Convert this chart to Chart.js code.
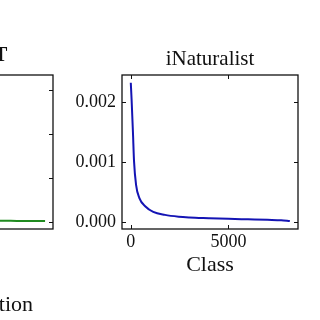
<!DOCTYPE html>
<html>
<head>
<meta charset="utf-8">
<script src="https://cdn.jsdelivr.net/npm/chart.js@4.4.1/dist/chart.umd.min.js"></script>
<style>
  html, body { margin: 0; padding: 0; background: #fff; }
  #wrap { position: relative; width: 320px; height: 320px; overflow: hidden; }
  .panel { position: absolute; top: 0; width: 320px; height: 320px; }
  #caption { position: absolute; top: 293px; left: -267px; width: 300px; text-align: right;
             font: 22px/22px "Liberation Serif", serif; color: #111; white-space: nowrap; }
</style>
</head>
<body>
<div id="wrap">
  <div class="panel" style="left:-245px"><canvas id="leftChart"></canvas></div>
  <div class="panel" style="left:0"><canvas id="rightChart"></canvas></div>
  <div id="caption">Class distribution</div>
</div>
<script>
// iNaturalist - sorted class frequencies
const inatClass = [0, 40, 110, 165, 270, 440, 750, 1150, 1750, 2450, 3000, 4000, 5000, 6000, 7000, 7700, 8142];
const inatFreq = [0.00232, 0.00205, 0.0015, 0.00102, 0.00062, 0.0004, 0.00026, 0.00017, 0.00012, 0.00009,
                  0.000078, 0.000066, 0.000055, 0.000046, 0.000037, 0.00003, 0.000018];
const inatYTicks = [0, 0.001, 0.002];
const inatXTicks = [0, 5000];

// left panel, only its tail shows in the crop
const leftClass = [0, 5, 10, 20, 40, 60, 100, 150, 200, 250, 300, 364];
const leftFreq = [0.0638, 0.045, 0.035, 0.022, 0.012, 0.008, 0.0045, 0.0025, 0.0012, 0.0006, 0.0005, 0.0004];
const leftYTicks = [0, 0.02, 0.04, 0.06];
const leftXTicks = [0, 200];

Chart.defaults.font.family = '"Liberation Serif", serif';
Chart.defaults.color = '#111';

// box round the plot + inward ticks on all four sides + panel title
const frameTicks = {
  id: 'frameTicks',
  afterDraw(chart, args, opts) {
    const { ctx, chartArea: a, scales: { x, y } } = chart;
    const len = 4;
    ctx.save();
    ctx.strokeStyle = '#111';
    ctx.lineWidth = 1;
    ctx.beginPath();
    x.ticks.forEach(t => {
      const px = Math.round(x.getPixelForValue(t.value)) + 0.5;
      ctx.moveTo(px, a.bottom); ctx.lineTo(px, a.bottom - len);
      ctx.moveTo(px, a.top); ctx.lineTo(px, a.top + len);
    });
    y.ticks.forEach(t => {
      const py = Math.round(y.getPixelForValue(t.value)) + 0.5;
      ctx.moveTo(a.left, py); ctx.lineTo(a.left + len, py);
      ctx.moveTo(a.right, py); ctx.lineTo(a.right - len, py);
    });
    ctx.stroke();
    ctx.lineWidth = 1.3;
    ctx.strokeRect(a.left, a.top, a.right - a.left, a.bottom - a.top);
    ctx.fillStyle = '#111';
    ctx.font = (opts.bold ? 'bold ' : '') + opts.size + 'px "Liberation Serif", serif';
    ctx.textAlign = 'center';
    ctx.textBaseline = 'alphabetic';
    ctx.fillText(opts.text, (a.left + a.right) / 2, opts.baseline);
    ctx.restore();
  }
};

function makeChart(id, xs, ys, yTicks, xTicks, ranges, color, title) {
  return new Chart(document.getElementById(id), {
    type: 'line',
    data: {
      datasets: [{
        data: xs.map((c, i) => ({ x: c, y: ys[i] })),
        borderColor: color,
        borderWidth: 2,
        pointRadius: 0,
        cubicInterpolationMode: 'monotone',
        fill: false
      }]
    },
    options: {
      responsive: false,
      animation: false,
      layout: { padding: { left: 0, right: 22, top: 75, bottom: 0 } },
      plugins: { legend: { display: false }, tooltip: { enabled: false }, frameTicks: title },
      scales: {
        x: {
          type: 'linear',
          min: ranges.xmin, max: ranges.xmax,
          grid: { display: false, drawTicks: false },
          border: { display: false },
          afterBuildTicks: s => { s.ticks = xTicks.map(v => ({ value: v })); },
          afterFit: s => { s.height = 91; },
          ticks: { padding: 2, maxRotation: 0, font: { size: 18 }, callback: v => String(v) },
          title: { display: true, text: 'Class', font: { size: 22, lineHeight: 1.2 }, padding: { top: 0, bottom: 42 } }
        },
        y: {
          type: 'linear',
          min: ranges.ymin, max: ranges.ymax,
          grid: { display: false, drawTicks: false },
          border: { display: false },
          afterBuildTicks: s => { s.ticks = yTicks.map(v => ({ value: v })); },
          afterFit: s => { s.width = 122; },
          ticks: { padding: 6, font: { size: 18 }, callback: v => v.toFixed(ranges.digits) }
        }
      }
    },
    plugins: [frameTicks]
  });
}

for (const id of ['leftChart', 'rightChart']) {
  const c = document.getElementById(id);
  c.width = 320; c.height = 320;
}

makeChart('leftChart', leftClass, leftFreq, leftYTicks, leftXTicks,
  { xmin: -18, xmax: 382, ymin: -0.0032, ymax: 0.067, digits: 2 },
  '#1f8a1f', { text: 'Places-LT', bold: true, size: 20, baseline: 61 });

makeChart('rightChart', inatClass, inatFreq, inatYTicks, inatXTicks,
  { xmin: -450, xmax: 8560, ymin: -0.000115, ymax: 0.00245, digits: 3 },
  '#1414b4', { text: 'iNaturalist', bold: false, size: 21, baseline: 65 });
</script>
</body>
</html>
